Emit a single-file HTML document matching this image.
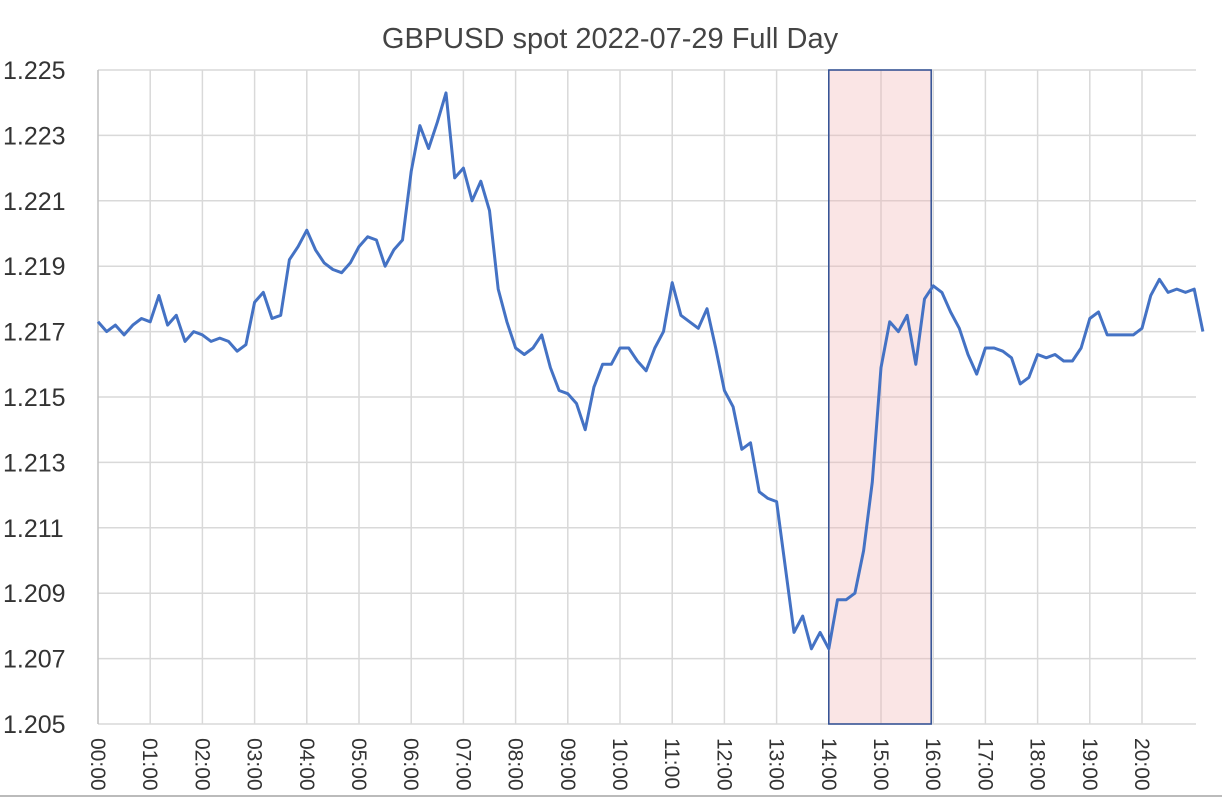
<!DOCTYPE html>
<html><head><meta charset="utf-8"><style>
html,body{margin:0;padding:0;background:#fff;}
svg{display:block;font-family:"Liberation Sans",sans-serif;}
</style></head><body>
<svg id="chart" width="1222" height="798" viewBox="0 0 1222 798">
<text x="610" y="48" text-anchor="middle" font-size="29" fill="#444">GBPUSD spot 2022-07-29 Full Day</text>
<g id="grid"></g>
<g id="ylab"></g>
<g id="xlab"></g>
<g id="marks"></g>
<line x1="0" y1="796" x2="1222" y2="796" stroke="#bbb" stroke-width="2"/>
</svg>
<script>
const yTicks = [1.205,1.207,1.209,1.211,1.213,1.215,1.217,1.219,1.221,1.223,1.225];
const xTickLabels = ["00:00","01:00","02:00","03:00","04:00","05:00","06:00","07:00","08:00","09:00","10:00","11:00","12:00","13:00","14:00","15:00","16:00","17:00","18:00","19:00","20:00"];
const highlightHours = [14, 16];
// prices every 10 minutes from 00:00
const prices = [
1.2173,1.2170,1.2172,1.2169,1.2172,1.2174,
1.2173,1.2181,1.2172,1.2175,1.2167,1.2170,
1.2169,1.2167,1.2168,1.2167,1.2164,1.2166,
1.2179,1.2182,1.2174,1.2175,1.2192,1.2196,
1.2201,1.2195,1.2191,1.2189,1.2188,1.2191,
1.2196,1.2199,1.2198,1.2190,1.2195,1.2198,
1.2219,1.2233,1.2226,1.2234,1.2243,1.2217,
1.2220,1.2210,1.2216,1.2207,1.2183,1.2173,
1.2165,1.2163,1.2165,1.2169,1.2159,1.2152,
1.2151,1.2148,1.2140,1.2153,1.2160,1.2160,
1.2165,1.2165,1.2161,1.2158,1.2165,1.2170,
1.2185,1.2175,1.2173,1.2171,1.2177,1.2165,
1.2152,1.2147,1.2134,1.2136,1.2121,1.2119,
1.2118,1.2098,1.2078,1.2083,1.2073,1.2078,
1.2073,1.2088,1.2088,1.2090,1.2103,1.2124,
1.2159,1.2173,1.2170,1.2175,1.2160,1.2180,
1.2184,1.2182,1.2176,1.2171,1.2163,1.2157,
1.2165,1.2165,1.2164,1.2162,1.2154,1.2156,
1.2163,1.2162,1.2163,1.2161,1.2161,1.2165,
1.2174,1.2176,1.2169,1.2169,1.2169,1.2169,
1.2171,1.2181,1.2186,1.2182,1.2183,1.2182,
1.2183,1.2170
];
const X0=98, XH=52.2, Y0=724, YT=70, VMIN=1.205, VMAX=1.225, XR=1196;
const xs = h => X0 + h*XH;
const ys = v => Y0 - (v-VMIN)/(VMAX-VMIN)*(Y0-YT);
const NS="http://www.w3.org/2000/svg";
function mk(tag, attrs, parent){const e=document.createElementNS(NS,tag);for(const k in attrs)e.setAttribute(k,attrs[k]);parent.appendChild(e);return e;}
const grid=document.getElementById('grid'), ylab=document.getElementById('ylab'), xlab=document.getElementById('xlab'), marks=document.getElementById('marks');
yTicks.forEach(v=>{
  const l=mk('line',{x1:X0,x2:XR,y1:ys(v),y2:ys(v),stroke:'#d9d9d9','stroke-width':1.5},grid);
  
  
  const t=mk('text',{x:3,y:ys(v)+9,'font-size':25,fill:'#333'},ylab);
  t.textContent=v.toFixed(3);
  
  
});
xTickLabels.forEach((s,i)=>{
  const x=xs(i);
  const l=mk('line',{x1:x,x2:x,y1:YT,y2:Y0,stroke:i===0?'#bfbfbf':'#d9d9d9','stroke-width':1.5},grid);
  
  
  const t=mk('text',{x:0,y:0,'font-size':21,fill:'#333',transform:`translate(${x-7},738) rotate(90)`},xlab);
  t.textContent=s;
  
  
});
const r=mk('rect',{x:xs(highlightHours[0]),y:YT,width:xs(highlightHours[1])-xs(highlightHours[0])-2,height:Y0-YT,fill:'rgba(242,180,180,0.35)',stroke:'#2f4e93','stroke-width':1.5},marks);


let d='';
prices.forEach((p,i)=>{d+=(i?'L':'M')+xs(i/6).toFixed(1)+','+ys(p).toFixed(1);});
const path=mk('path',{d:d,fill:'none',stroke:'#4472C4','stroke-width':3,'stroke-linejoin':'round'},marks);


</script>
</body></html>
